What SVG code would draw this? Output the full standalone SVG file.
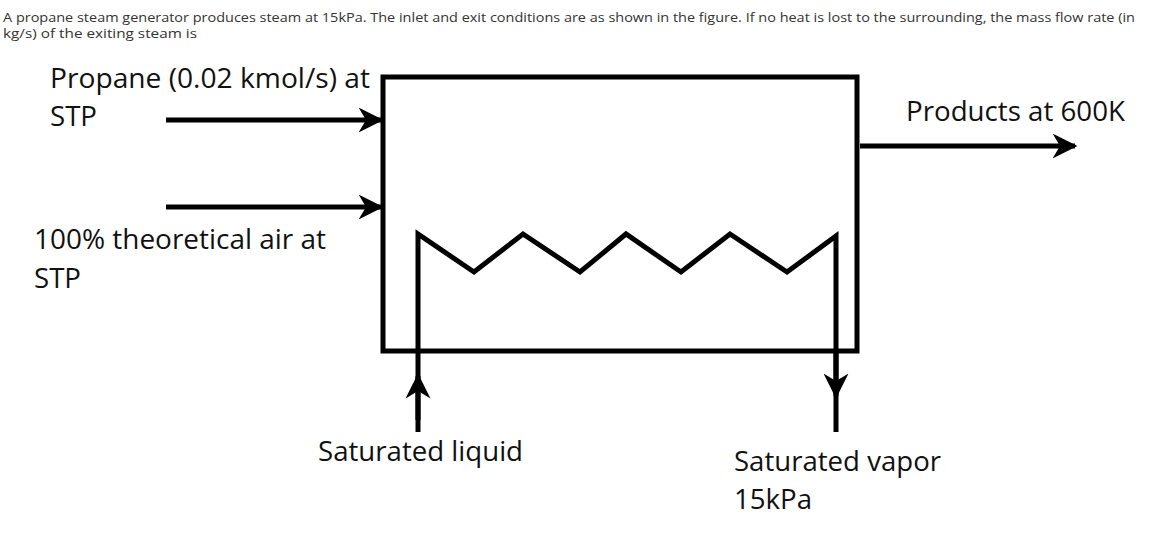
<svg xmlns="http://www.w3.org/2000/svg" width="1159" height="543" viewBox="0 0 1159 543">
<style>
.q{font-family:"Open Sans",sans-serif;font-size:13px;fill:#333}
.l{font-family:"Open Sans",sans-serif;font-size:27px;fill:#111}
.s{stroke:#000;stroke-width:5;fill:none}
</style>
<defs>
<marker id="a" viewBox="0 0 10 10" refX="9" refY="5" markerWidth="5" markerHeight="5" orient="auto" markerUnits="strokeWidth"><path d="M0,0 L10,5 L0,10 L3,5 Z" fill="#000"/></marker>
</defs>
<rect width="1159" height="543" fill="#fff"/>
<text class="q" x="3" y="22" textLength="1132" lengthAdjust="spacingAndGlyphs">A propane steam generator produces steam at 15kPa. The inlet and exit conditions are as shown in the figure. If no heat is lost to the surrounding, the mass flow rate (in</text>
<text class="q" x="3" y="38" textLength="194" lengthAdjust="spacingAndGlyphs">kg/s) of the exiting steam is</text>
<g id="generator"><rect class="s" x="383" y="77" width="474" height="274"/></g>
<g id="coil"><polyline class="s" stroke-linejoin="miter" points="418,432 418,234 474,272 523,234 580,272 626,234 681,272 730,234 787,272 836,236 836,432"/></g>
<g id="connectors">
<line class="s" x1="166" y1="120" x2="381" y2="120" marker-end="url(#a)"/>
<line class="s" x1="166" y1="207" x2="381" y2="207" marker-end="url(#a)"/>
<line class="s" x1="860" y1="146" x2="1075" y2="146" marker-end="url(#a)"/>
<line class="s" x1="418" y1="420" x2="418" y2="376" marker-end="url(#a)"/>
<line class="s" x1="836" y1="350" x2="836" y2="396" marker-end="url(#a)"/>
</g>
<g id="labels">
<text class="l" x="50" y="88" textLength="320" lengthAdjust="spacingAndGlyphs">Propane (0.02 kmol/s) at</text>
<text class="l" x="50" y="126" textLength="47" lengthAdjust="spacingAndGlyphs">STP</text>
<text class="l" x="34" y="249" textLength="292" lengthAdjust="spacingAndGlyphs">100% theoretical air at</text>
<text class="l" x="34" y="288" textLength="47" lengthAdjust="spacingAndGlyphs">STP</text>
<text class="l" x="906" y="121" textLength="219" lengthAdjust="spacingAndGlyphs">Products at 600K</text>
<text class="l" x="318" y="461" textLength="205" lengthAdjust="spacingAndGlyphs">Saturated liquid</text>
<text class="l" x="734" y="471" textLength="207" lengthAdjust="spacingAndGlyphs">Saturated vapor</text>
<text class="l" x="734" y="509" textLength="78" lengthAdjust="spacingAndGlyphs">15kPa</text>
</g>
</svg>
